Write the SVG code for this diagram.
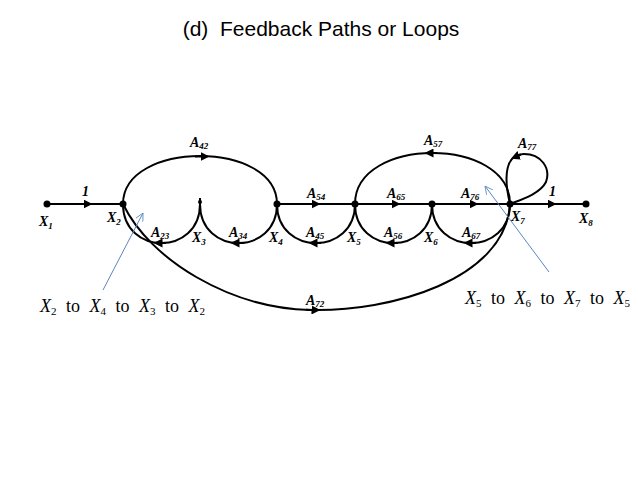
<svg xmlns="http://www.w3.org/2000/svg" width="638" height="478" viewBox="0 0 638 478">
<style>
.e{fill:none;stroke:#000;stroke-width:2}
.l{font-family:"Liberation Serif",serif;font-style:italic;font-weight:bold;font-size:14px;fill:#000}
.s{font-size:9px;fill:#000}
.a{font-family:"Liberation Serif",serif;font-size:18px;word-spacing:5px;fill:#000}
.b{stroke:#5b86c0;stroke-width:1;fill:none}
</style>
<defs>
<marker id="m" viewBox="0 0 10 10" refX="5" refY="5" markerWidth="9" markerHeight="9" orient="auto" markerUnits="userSpaceOnUse"><path d="M0,0L10,5L0,10z"/></marker>
<marker id="bm" viewBox="0 0 10 10" refX="10" refY="5" markerWidth="8" markerHeight="8" orient="auto" markerUnits="userSpaceOnUse"><path d="M0,0L10,5L0,10" fill="none" stroke="#5b86c0"/></marker>
</defs>
<rect width="638" height="478" fill="#fff"/>
<text x="321" y="36" text-anchor="middle" font-family="Liberation Sans,sans-serif" font-size="21" xml:space="preserve">(d)  Feedback Paths or Loops</text>
<g id="connectors">
<path class="e" d="M47,204L123,204" /><path class="e" d="M47,204L88,204" marker-end="url(#m)"/>
<path class="e" d="M123,204C123,140 277,140 277,204"/><path d="M195,156.5L205,156.5" class="e" marker-end="url(#m)"/>
<path class="e" d="M277,204H510"/>
<path class="e" d="M277,204L316,204" marker-end="url(#m)"/>
<path class="e" d="M355,204L396,204" marker-end="url(#m)"/>
<path class="e" d="M432,204L474,204" marker-end="url(#m)"/>
<path class="e" d="M510,204L586,204"/><path class="e" d="M510,204L552,204" marker-end="url(#m)"/>
<path class="e" d="M200,198V204C200,256 123,256 123,204"/><path class="e" d="M166,243L158,243" marker-end="url(#m)"/>
<path class="e" d="M277,204C277,256 200,256 200,204"/><path class="e" d="M243,243L235,243" marker-end="url(#m)"/>
<path class="e" d="M355,204C355,256 277,256 277,204"/><path class="e" d="M321,243L313,243" marker-end="url(#m)"/>
<path class="e" d="M432,204C432,256 355,256 355,204"/><path class="e" d="M398,243L390,243" marker-end="url(#m)"/>
<path class="e" d="M510,204C510,256 432,256 432,204"/><path class="e" d="M476,243L468,243" marker-end="url(#m)"/>
<path class="e" d="M510,204C510,136 355,136 355,204"/><path class="e" d="M437,153L429,153" marker-end="url(#m)"/>
<path class="e" d="M510,204C503,175 506,154 524,154C541,154 551,168 546,182C540,194 520,200 510,204"/><path class="e" d="M521,154.5L515,157" marker-end="url(#m)"/>
<path class="e" d="M510,204C505,280 390,312 310,310C230,308 150,260 123,204"/><path class="e" d="M306,309.8L316,310" marker-end="url(#m)"/>
<line class="b" x1="103" y1="290" x2="143" y2="213" marker-end="url(#bm)"/>
<line class="b" x1="549" y1="272" x2="485" y2="186" marker-end="url(#bm)"/>
</g>
<g id="nodes">
<g id="X1"><circle cx="47" cy="204" r="3.5"/><text class="l" x="39" y="226">X<tspan class="s" dy="3">1</tspan></text></g>
<g id="X2"><circle cx="123" cy="204" r="3.5"/><text class="l" x="107" y="222">X<tspan class="s" dy="3">2</tspan></text></g>
<g id="X3"><circle cx="200" cy="202" r="2"/><text class="l" x="192" y="242">X<tspan class="s" dy="3">3</tspan></text></g>
<g id="X4"><circle cx="277" cy="204" r="3.5"/><text class="l" x="269" y="242">X<tspan class="s" dy="3">4</tspan></text></g>
<g id="X5"><circle cx="355" cy="204" r="3.5"/><text class="l" x="347" y="242">X<tspan class="s" dy="3">5</tspan></text></g>
<g id="X6"><circle cx="432" cy="204" r="3.5"/><text class="l" x="424" y="242">X<tspan class="s" dy="3">6</tspan></text></g>
<g id="X7"><circle cx="510" cy="204" r="3.5"/><text class="l" x="511" y="221">X<tspan class="s" dy="3">7</tspan></text></g>
<g id="X8"><circle cx="586" cy="204" r="3.5"/><text class="l" x="579" y="223">X<tspan class="s" dy="3">8</tspan></text></g>
</g>
<g id="labels">
<text class="l" x="82" y="196">1</text>
<text class="l" x="549" y="196">1</text>
<text class="l" x="190" y="147">A<tspan class="s" dy="2">42</tspan></text>
<text class="l" x="151" y="237">A<tspan class="s" dy="2">23</tspan></text>
<text class="l" x="229" y="237">A<tspan class="s" dy="2">34</tspan></text>
<text class="l" x="306" y="237">A<tspan class="s" dy="2">45</tspan></text>
<text class="l" x="384" y="237">A<tspan class="s" dy="2">56</tspan></text>
<text class="l" x="462" y="237">A<tspan class="s" dy="2">67</tspan></text>
<text class="l" x="307" y="198">A<tspan class="s" dy="2">54</tspan></text>
<text class="l" x="387" y="198">A<tspan class="s" dy="2">65</tspan></text>
<text class="l" x="461" y="198">A<tspan class="s" dy="2">76</tspan></text>
<text class="l" x="424" y="145">A<tspan class="s" dy="2">57</tspan></text>
<text class="l" x="518" y="148">A<tspan class="s" dy="2">77</tspan></text>
<text class="l" x="306" y="305">A<tspan class="s" dy="2">72</tspan></text>
<text class="a" x="40" y="312"><tspan font-style="italic">X</tspan><tspan font-size="11" dy="3">2</tspan><tspan dy="-3"> to </tspan><tspan font-style="italic">X</tspan><tspan font-size="11" dy="3">4</tspan><tspan dy="-3"> to </tspan><tspan font-style="italic">X</tspan><tspan font-size="11" dy="3">3</tspan><tspan dy="-3"> to </tspan><tspan font-style="italic">X</tspan><tspan font-size="11" dy="3">2</tspan></text>
<text class="a" x="465" y="304"><tspan font-style="italic">X</tspan><tspan font-size="11" dy="3">5</tspan><tspan dy="-3"> to </tspan><tspan font-style="italic">X</tspan><tspan font-size="11" dy="3">6</tspan><tspan dy="-3"> to </tspan><tspan font-style="italic">X</tspan><tspan font-size="11" dy="3">7</tspan><tspan dy="-3"> to </tspan><tspan font-style="italic">X</tspan><tspan font-size="11" dy="3">5</tspan></text>
</g>
</svg>
